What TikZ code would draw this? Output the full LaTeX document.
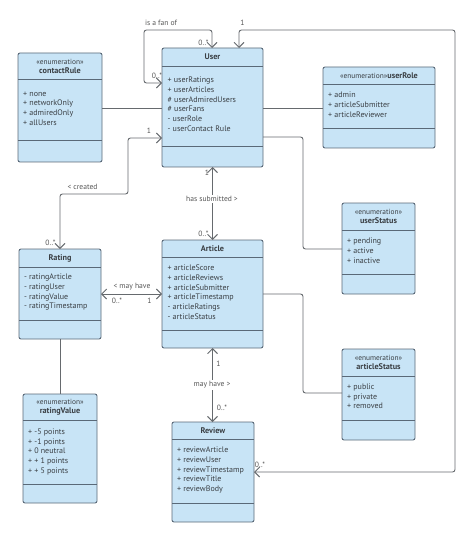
\documentclass[tikz,border=0pt]{standalone}
\usepackage{fontspec}
\setmainfont{PT Sans}
\usetikzlibrary{arrows.meta,calc}
\definecolor{fillc}{HTML}{C8E4F6}
\definecolor{boxc}{HTML}{5A6978}
\definecolor{linec}{HTML}{666A6E}
\definecolor{txtc}{HTML}{3A3F44}
\definecolor{lblc}{HTML}{555555}
\tikzset{
  cls/.style={draw=boxc, fill=fillc, line width=0.9pt, rounded corners=2pt, inner sep=0pt, outer sep=0pt},
  sepline/.style={draw=boxc, line width=0.9pt},
  ttl/.style={font=\fontsize{8.2pt}{9pt}\selectfont\bfseries, text=txtc, inner sep=0pt, align=center},
  attr/.style={font=\fontsize{8pt}{9.7pt}\selectfont, text=txtc, inner sep=0pt, align=left, anchor=north west},
  conn/.style={draw=linec, line width=0.9pt, rounded corners=2.5pt},
  assoc/.style={conn, {Straight Barb[length=5pt,width=10pt]}-{Straight Barb[length=5pt,width=10pt]}},
  lbl/.style={font=\fontsize{7.6pt}{8pt}\selectfont, text=lblc, inner sep=0.6pt},
  lblw/.style={lbl, fill=white, inner sep=1.5pt}
}
\newcommand\umlcls[8]{%
  \node[cls, minimum width={(#4-#2)*1pt}, minimum height={(#5-#3)*1pt}] (#1) at ({(#2+#4)/2},{(#3+#5)/2}) {};
  \draw[sepline] (#2,#6) -- (#4,#6);
  \draw[sepline] (#2,#7) -- (#4,#7);
  \node[ttl] (#1-t) at ({(#2+#4)/2},{(#3+#6)/2}) {#8};
}
\newcommand\stereotxt{{\fontsize{7.4pt}{9pt}\selectfont\mdseries «enumeration»}}
\begin{document}
\begin{tikzpicture}[x=1pt,y=-1pt]
\useasboundingbox (0,0) rectangle (474,540);

% classes
\umlcls{user}{162}{48}{263}{167}{66}{146}{User}
\node[attr] (usera) at (167.5,77) {+ userRatings\\+ userArticles\\\# userAdmiredUsers\\\# userFans\\- userRole\\- userContact Rule};

\umlcls{contact}{18}{53}{102}{162}{79}{140}{\stereotxt\\contactRule}
\node[attr] (contacta) at (23,91.5) {+ none\\+ networkOnly\\+ admiredOnly\\+ allUsers};

\umlcls{role}{323}{67}{435}{148}{84}{128}{\stereotxt userRole}
\node[attr] (rolea) at (328,92) {+ admin\\+ articleSubmitter\\+ articleReviewer};

\umlcls{ustatus}{342}{203}{415}{294}{230}{274}{\stereotxt\\userStatus}
\node[attr] (ustatusa) at (347,238) {+ pending\\+ active\\+ inactive};

\umlcls{rating}{19}{249}{101}{339}{267}{320}{Rating}
\node[attr] (ratinga) at (24,274) {- ratingArticle\\- ratingUser\\- ratingValue\\- ratingTimestamp};

\umlcls{article}{162}{240}{263}{348}{257}{330}{Article}
\node[attr] (articlea) at (167.5,265) {+ articleScore\\+ articleReviews\\+ articleSubmitter\\+ articleTimestamp\\- articleRatings\\- articleStatus};

\umlcls{astatus}{342}{349}{415}{440}{376}{420}{\stereotxt\\articleStatus}
\node[attr] (astatusa) at (347,383.5) {+ public\\+ private\\+ removed};

\umlcls{rvalue}{23}{394}{97}{503}{420}{484}{\stereotxt\\ratingValue}
\node[attr] (rvaluea) at (28,428.5) {+ -5 points\\+ -1 points\\+ 0 neutral\\+ + 1 points\\+ + 5 points};

\umlcls{review}{172}{422}{254}{522}{439}{503}{Review}
\node[attr] (reviewa) at (177,447) {+ reviewArticle\\+ reviewUser\\+ reviewTimestamp\\+ reviewTitle\\+ reviewBody};

% helper coordinates
\coordinate (fanL) at ($(user.north west)+(0,35)$);
\coordinate (fanT) at ($(user.north west)+(50,0)$);
\coordinate (revU) at ($(user.north west)+(77,0)$);
\coordinate (revR) at ($(review.north east)+(0,50)$);
\coordinate (crU) at ($(user.north west)+(0,90)$);
\coordinate (stU) at ($(user.north east)+(0,89)$);
\coordinate (stA) at ($(article.north east)+(0,54)$);
\coordinate (ustL) at ($(ustatus.north west)+(0,46)$);
\coordinate (astL) at ($(astatus.north west)+(0,44)$);

% connectors
\draw[assoc] (fanL) -- (144,83) -- (144,30) -- (212,30) -- (fanT);
\node[lbl] at (161,23) {is a fan of};
\node[lbl] at (203.5,43) {0..*};
\node[lbl] at (157,76) {0..*};

\draw[assoc] (revR) -- (455,472) -- (455,30) -- (239,30) -- (revU);
\node[lbl] at (242.5,23) {1};
\node[lbl] at (260,465) {0..*};

\draw[conn] (contact.east |- 0,108) -- (user.west |- 0,108);
\draw[conn] (user.east |- 0,108) -- (role.west |- 0,108);
\draw[conn] (stU) -- (303,137) -- (303,249) -- (ustL);
\draw[conn] (stA) -- (303,294) -- (303,393) -- (astL);

\draw[assoc] (crU) -- (128,138) -- (128,194) -- (60,194) -- (rating.north -| 60,0);
\node[lbl] at (149,131) {1};
\node[lbl] at (50.5,243) {0..*};
\node[lbl] at (82.5,187) {< created};

\draw[assoc] (user.south) -- (article.north);
\node[lbl] at (207,172.5) {1};
\node[lbl] at (203.5,234) {0..*};
\node[lblw] at (212,199) {has submitted >};

\draw[assoc] (rating.east |- 0,294) -- (article.west |- 0,294);
\node[lbl] at (132,287) {< may have};
\node[lbl] at (117,301) {0..*};
\node[lbl] at (149.5,301) {1};

\draw[conn] (rating.south -| 60,0) -- (rvalue.north -| 60,0);

\draw[assoc] (article.south) -- (review.north -| article.south);
\node[lbl] at (218.5,364) {1};
\node[lbl] at (222,408) {0..*};
\node[lblw] at (212,385) {may have >};
\end{tikzpicture}
\end{document}
